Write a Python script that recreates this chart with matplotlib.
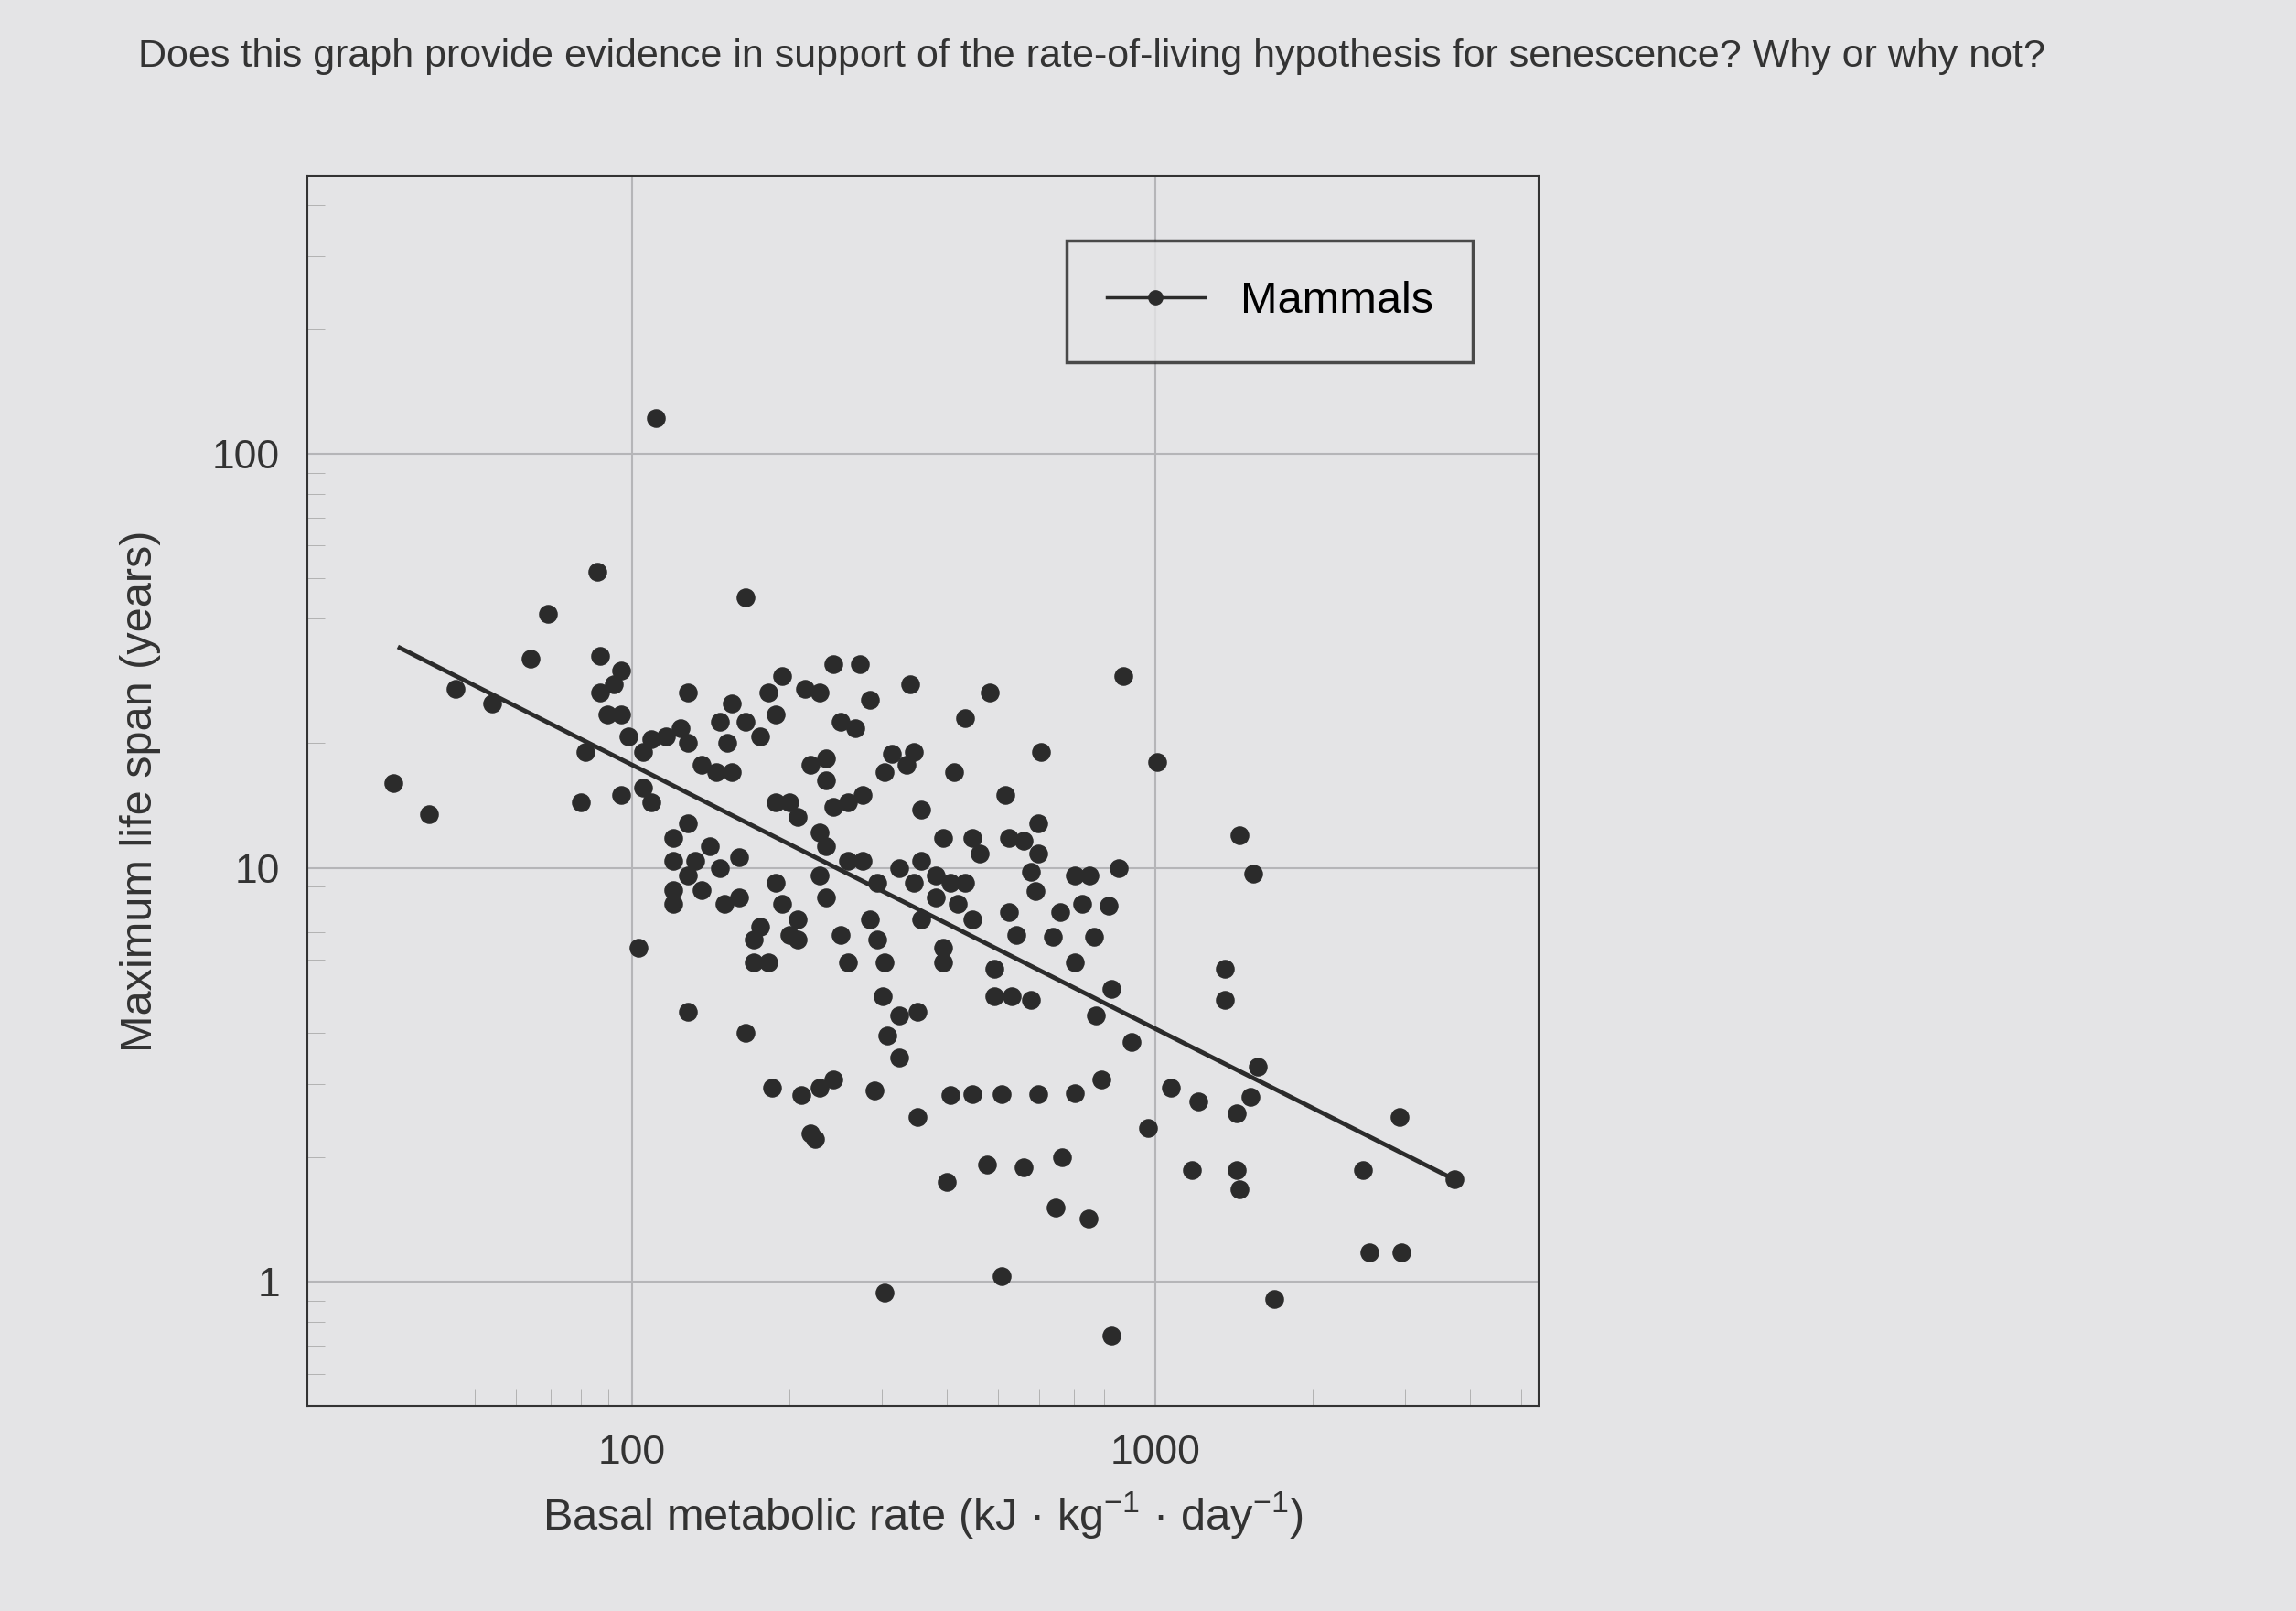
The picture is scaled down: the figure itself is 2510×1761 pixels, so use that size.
import matplotlib
matplotlib.use("Agg")
import matplotlib.pyplot as plt
import numpy as np

plt.rcParams['font.family'] = ['Liberation Sans', 'DejaVu Sans']
plt.rcParams['mathtext.fontset'] = 'custom'
plt.rcParams['mathtext.rm'] = 'Liberation Sans'

# basal metabolic rate (kJ/kg/day) and maximum life span (years)
bmr = [111, 86, 69, 64, 165, 870, 1010, 35, 41, 46, 54, 80, 103, 128, 165, 304, 509, 825,
       1690, 2570, 2950, 2500, 2930, 3740, 1450, 1540, 1360, 1360, 1570, 1520, 1430, 1175,
       1430, 1450, 970, 1070, 1210, 900, 825, 770, 400, 477, 561, 663, 645, 745, 352, 291,
       406, 447, 509, 598, 702, 788, 185, 211, 228, 243, 219, 224, 324, 308, 324, 351, 301,
       393, 393, 493, 580, 493, 532, 702, 764, 637, 543, 526, 590, 658, 724, 815, 748, 851,
       702, 580, 561, 598, 526, 598, 518, 605, 434, 483, 340, 412, 357, 335, 314, 346, 304,
       276, 259, 243, 235, 219, 235, 251, 267, 285, 243, 273, 228, 214, 194, 182, 188, 176,
       165, 155, 147, 152, 145, 155, 136, 128, 128, 124, 116, 109, 105, 98.6, 95.5, 89.7,
       87, 92.5, 87, 95.5, 81.5, 95.5, 105, 109, 120, 128, 120, 132, 141, 147, 160, 128,
       120, 136, 120, 150, 160, 176, 171, 194, 200, 207, 171, 182, 251, 259, 294, 304, 200,
       188, 207, 228, 235, 228, 259, 276, 294, 324, 357, 381, 346, 381, 406, 434, 420, 447,
       393, 447, 462, 357, 207, 235, 285, 188]
lifespan = [122, 52, 41, 32, 45, 29, 18, 16, 13.5, 27, 25, 14.4, 6.4, 4.5, 4.0, 0.94, 1.03,
            0.74, 0.91, 1.18, 1.18, 1.86, 2.5, 1.77, 12, 9.7, 5.7, 4.8, 3.3, 2.8, 2.55, 1.86,
            1.86, 1.67, 2.35, 2.95, 2.72, 3.8, 5.1, 4.4, 1.74, 1.92, 1.89, 2.0, 1.51, 1.42,
            2.5, 2.9, 2.83, 2.84, 2.84, 2.84, 2.85, 3.08, 2.95, 2.83, 2.95, 3.08, 2.28, 2.21,
            3.48, 3.93, 4.4, 4.5, 4.9, 5.9, 6.4, 5.7, 4.8, 4.9, 4.9, 5.9, 6.8, 6.8, 6.9, 7.8,
            8.8, 7.8, 8.2, 8.1, 9.6, 10, 9.6, 9.8, 11.6, 12.8, 11.8, 10.8, 15, 19, 23, 26.5,
            27.7, 17, 13.8, 17.7, 18.9, 19, 17, 15, 14.4, 14, 16.3, 17.7, 18.4, 22.5, 21.7,
            25.5, 31, 31, 26.5, 27, 29, 26.5, 23.5, 20.8, 22.5, 25, 22.5, 20, 17, 17, 17.7,
            20, 26.5, 21.7, 20.8, 20.4, 19, 20.8, 23.5, 23.5, 26.5, 27.7, 32.5, 30, 19, 15,
            15.6, 14.4, 11.8, 12.8, 10.4, 10.4, 11.3, 10, 10.6, 9.6, 8.85, 8.85, 8.2, 8.2,
            8.5, 7.2, 6.7, 8.2, 6.9, 6.7, 5.9, 5.9, 6.9, 5.9, 6.7, 5.9, 14.4, 14.4, 13.3,
            12.2, 11.3, 9.6, 10.4, 10.4, 9.2, 10, 10.4, 9.6, 9.2, 8.5, 9.2, 9.2, 8.2, 7.5,
            11.8, 11.8, 10.8, 7.5, 7.5, 8.5, 7.5, 9.2]

# fitted trend line end points
fit_x = [36, 3720]
fit_y = [34, 1.77]

bg = '#e4e4e6'
fig = plt.figure(figsize=(25.1, 17.61), dpi=100, facecolor=bg)
ax = fig.add_axes([0.134, 0.127, 0.536, 0.764])
ax.set_facecolor(bg)

ax.scatter(bmr, lifespan, s=190, color='#2b2b2b', zorder=3)
ax.plot(fit_x, fit_y, '-', color='#2b2b2b', lw=3.5, zorder=4)
ax.plot([], [], '-', color='#2b2b2b', lw=2.5, marker='o', markersize=11, label='Mammals')

ax.set_xscale('log')
ax.set_yscale('log')
ax.set_xlim(24, 5400)
ax.set_ylim(0.5, 470)
ax.grid(True, which='major', color='#b5b5b8', lw=1.5)
ax.set_xticks([100, 1000])
ax.set_xticklabels(['100', '1000'])
ax.set_yticks([1, 10, 100])
ax.set_yticklabels(['1', '10', '100'])
ax.tick_params(which='major', length=0, labelsize=32, pad=22, colors='#333333')
ax.tick_params(which='minor', direction='in', length=14, color='#aaaaaa')
ax.yaxis.set_minor_formatter(plt.NullFormatter())
ax.xaxis.set_minor_formatter(plt.NullFormatter())
for sp in ax.spines.values():
    sp.set_color('#333333')
    sp.set_linewidth(1.5)

ax.set_xlabel('Basal metabolic rate (kJ · kg$^{-1}$ · day$^{-1}$)', fontsize=35, color='#333333', labelpad=14)
ax.set_ylabel('Maximum life span (years)', fontsize=35, color='#333333', labelpad=40)

leg = ax.legend(loc='upper right', fontsize=35, frameon=True, fancybox=False,
                edgecolor='#222222', facecolor=bg, borderpad=0.9, handlelength=2.2,
                bbox_to_anchor=(0.965, 0.965))
leg.get_frame().set_linewidth(2.5)

fig.text(0.06, 0.965, 'Does this graph provide evidence in support of the rate-of-living hypothesis for senescence? Why or why not?',
         fontsize=31, color='#333333', va='center')

fig.savefig('out.png', dpi=100, facecolor=bg)
